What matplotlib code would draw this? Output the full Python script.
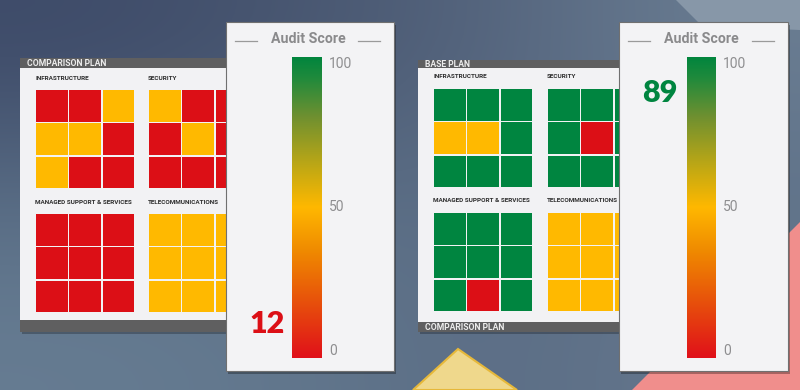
import numpy as np
import matplotlib
matplotlib.use("Agg")
import matplotlib.pyplot as plt
from matplotlib.patches import Rectangle, Polygon
from matplotlib.colors import LinearSegmentedColormap, to_rgb
import matplotlib.transforms as mtransforms

# ---------------- data ----------------
categories = ["INFRASTRUCTURE", "SECURITY", "MANAGED SUPPORT & SERVICES", "TELECOMMUNICATIONS"]
# R = red, Y = yellow, G = green  (3x3 per category)
comparison_infra = [["R", "R", "Y"], ["Y", "Y", "R"], ["Y", "R", "R"]]
comparison_security = [["Y", "R", "R"], ["R", "Y", "R"], ["R", "R", "R"]]
comparison_managed = [["R", "R", "R"], ["R", "R", "R"], ["R", "R", "R"]]
comparison_telecom = [["Y", "Y", "Y"], ["Y", "Y", "Y"], ["Y", "Y", "Y"]]

base_infra = [["G", "G", "G"], ["Y", "Y", "G"], ["G", "G", "G"]]
base_security = [["G", "G", "G"], ["G", "R", "G"], ["G", "G", "G"]]
base_managed = [["G", "G", "G"], ["G", "G", "G"], ["G", "R", "G"]]
base_telecom = [["Y", "Y", "Y"], ["Y", "Y", "Y"], ["Y", "Y", "Y"]]

plan_titles = ["COMPARISON PLAN", "BASE PLAN"]
plan_footers = ["", "COMPARISON PLAN"]
gauge_title = "Audit Score"
scores = [12, 89]
gauge_ticks = [0, 50, 100]
gauge_tick_labels = ["0", "50", "100"]

# ---------------- style ----------------
CELL = {"R": "#dc0f16", "Y": "#ffb900", "G": "#008540"}
PANEL_BG = "#f2f2f4"
BAR_DARK = "#5f5f60"
CARD_BG = "#f3f3f5"
NARROW = ["Roboto", "DejaVu Sans"]

fig = plt.figure(figsize=(8, 3.9), dpi=100)
ax = fig.add_axes([0, 0, 1, 1])
ax.set_xlim(0, 800)
ax.set_ylim(390, 0)
ax.axis("off")

# background (smooth concrete-like colour field)
corners = np.array([
    [to_rgb("#3e4b69"), to_rgb("#485670"), to_rgb("#55657e"), to_rgb("#6a7d92")],
    [to_rgb("#586c84"), to_rgb("#5c6f86"), to_rgb("#5a6d85"), to_rgb("#5f7289")],
    [to_rgb("#667c92"), to_rgb("#62778d"), to_rgb("#5a6c84"), to_rgb("#66788e")],
])
ax.imshow(corners, extent=[0, 800, 390, 0], interpolation="bicubic", aspect="auto", zorder=0)
ax.add_patch(Polygon([(676, 0), (800, 0), (800, 30), (702, 26)], closed=True,
                     facecolor="#8797a8", edgecolor="none", zorder=0.5))
ax.add_patch(Polygon([(800, 222), (800, 390), (632, 390)], closed=True,
                     facecolor="#f08e8c", edgecolor="none", zorder=0.5))
ax.add_patch(Polygon([(413, 390), (458, 349), (517, 390)], closed=True,
                     facecolor="#efd88c", edgecolor="#e6b83a", lw=1.5, zorder=0.5))

plans = [
    dict(x0=20, x1=240, top=58, head=68, bottom=320, foot=332,
         grids=[(35, 89), (148, 89), (35, 213), (148, 213)],
         cells=[comparison_infra, comparison_security, comparison_managed, comparison_telecom]),
    dict(x0=418, x1=640, top=60, head=68, bottom=322, foot=332,
         grids=[(433, 88), (547, 88), (433, 212), (547, 212)],
         cells=[base_infra, base_security, base_managed, base_telecom]),
]

pitch = 33.4
gap = 1.6
for p, title, footer in zip(plans, plan_titles, plan_footers):
    ax.add_patch(Rectangle((p["x0"] + 2, p["top"] + 2), p["x1"] - p["x0"], p["foot"] - p["top"],
                           facecolor="black", alpha=0.25, edgecolor="none", zorder=1))
    ax.add_patch(Rectangle((p["x0"], p["top"]), p["x1"] - p["x0"], p["foot"] - p["top"],
                           facecolor=PANEL_BG, edgecolor="none", zorder=1.1))
    ax.add_patch(Rectangle((p["x0"], p["top"]), p["x1"] - p["x0"], p["head"] - p["top"],
                           facecolor=BAR_DARK, edgecolor="none", zorder=1.2))
    ax.add_patch(Rectangle((p["x0"], p["bottom"]), p["x1"] - p["x0"], p["foot"] - p["bottom"],
                           facecolor=BAR_DARK, edgecolor="none", zorder=1.2))
    ax.text(p["x0"] + 7, (p["top"] + p["head"]) / 2 + 0.5, title, color="#ececec",
            fontsize=6.2, fontweight="bold", family=NARROW, va="center", ha="left", zorder=1.3)
    if footer:
        ax.text(p["x0"] + 7, (p["bottom"] + p["foot"]) / 2 + 0.5, footer, color="#ececec",
                fontsize=6.2, fontweight="bold", family=NARROW, va="center", ha="left", zorder=1.3)
    for (gx, gy), cat, mat in zip(p["grids"], categories, p["cells"]):
        ax.text(gx, gy - 11, cat, color="#2e2e2e", fontsize=4.6, family=NARROW,
                fontweight="bold", va="center", ha="left", zorder=1.3)
        for r, row in enumerate(mat):
            for c, v in enumerate(row):
                ax.add_patch(Rectangle((gx + c * pitch + gap / 2, gy + r * pitch + gap / 2),
                                       pitch - gap, pitch - gap, facecolor=CELL[v],
                                       edgecolor="none", zorder=1.25))

# gauge cards
cards = [dict(x0=226, x1=394, y0=22, y1=371, bar=(292, 322), score_x=267),
         dict(x0=619, x1=788, y0=22, y1=371, bar=(687, 716), score_x=660)]
bar_top, bar_bot = 57, 358
grad = LinearSegmentedColormap.from_list("audit", [
    (0.0, "#e0101a"), (0.2, "#e8560a"), (0.36, "#f08c00"), (0.5, "#ffb800"),
    (0.62, "#c6aa12"), (0.8, "#6f9030"), (0.93, "#1f8a3c"), (1.0, "#00853e")])

for card, score in zip(cards, scores):
    ax.add_patch(Rectangle((card["x0"] + 2, card["y0"] + 3), card["x1"] - card["x0"],
                           card["y1"] - card["y0"], facecolor="black", alpha=0.3,
                           edgecolor="none", zorder=2))
    ax.add_patch(Rectangle((card["x0"], card["y0"]), card["x1"] - card["x0"],
                           card["y1"] - card["y0"], facecolor=CARD_BG, edgecolor="#707070",
                           lw=0.8, zorder=2.1))
    cx = (card["x0"] + card["x1"]) / 2 - 2
    ax.text(cx, 39, gauge_title, color="#8a8a8c", fontsize=10.2, fontweight="bold",
            family=NARROW, ha="center", va="center", zorder=2.2)
    ax.plot([card["x0"] + 9, card["x0"] + 31], [40.5, 40.5], color="#9a9a9a", lw=0.9, zorder=2.2)
    ax.plot([card["x1"] - 36, card["x1"] - 14], [40.5, 40.5], color="#9a9a9a", lw=0.9, zorder=2.2)

    bx0, bx1 = card["bar"]
    gax = fig.add_axes([bx0 / 800, (390 - bar_bot) / 390, (bx1 - bx0) / 800, (bar_bot - bar_top) / 390])
    gax.set_zorder(3)
    gax.imshow(np.linspace(0, 1, 256).reshape(-1, 1), cmap=grad, origin="lower",
               extent=[0, 1, 0, 100], aspect="auto")
    gax.set_xlim(0, 1)
    gax.set_ylim(0, 100)
    gax.set_xticks([])
    gax.yaxis.tick_right()
    gax.set_yticks(gauge_ticks)
    gax.set_yticklabels(gauge_tick_labels)
    for lab, va in zip(gax.get_yticklabels(), ["bottom", "center", "top"]):
        lab.set_verticalalignment(va)
        lab.set_family(NARROW)
    gax.tick_params(axis="y", length=0, pad=5, labelsize=10, labelcolor="#8e8e90")
    for s in gax.spines.values():
        s.set_visible(False)
    trans = mtransforms.blended_transform_factory(ax.transData, gax.transData)
    col = CELL["R"] if score < 50 else CELL["G"]
    gax.text(card["score_x"], score, str(score), transform=trans, color=col,
             fontsize=22, fontweight="heavy", family=["Lato", "DejaVu Sans"],
             ha="center", va="center_baseline", clip_on=False)

fig.savefig("out.png", dpi=100)
